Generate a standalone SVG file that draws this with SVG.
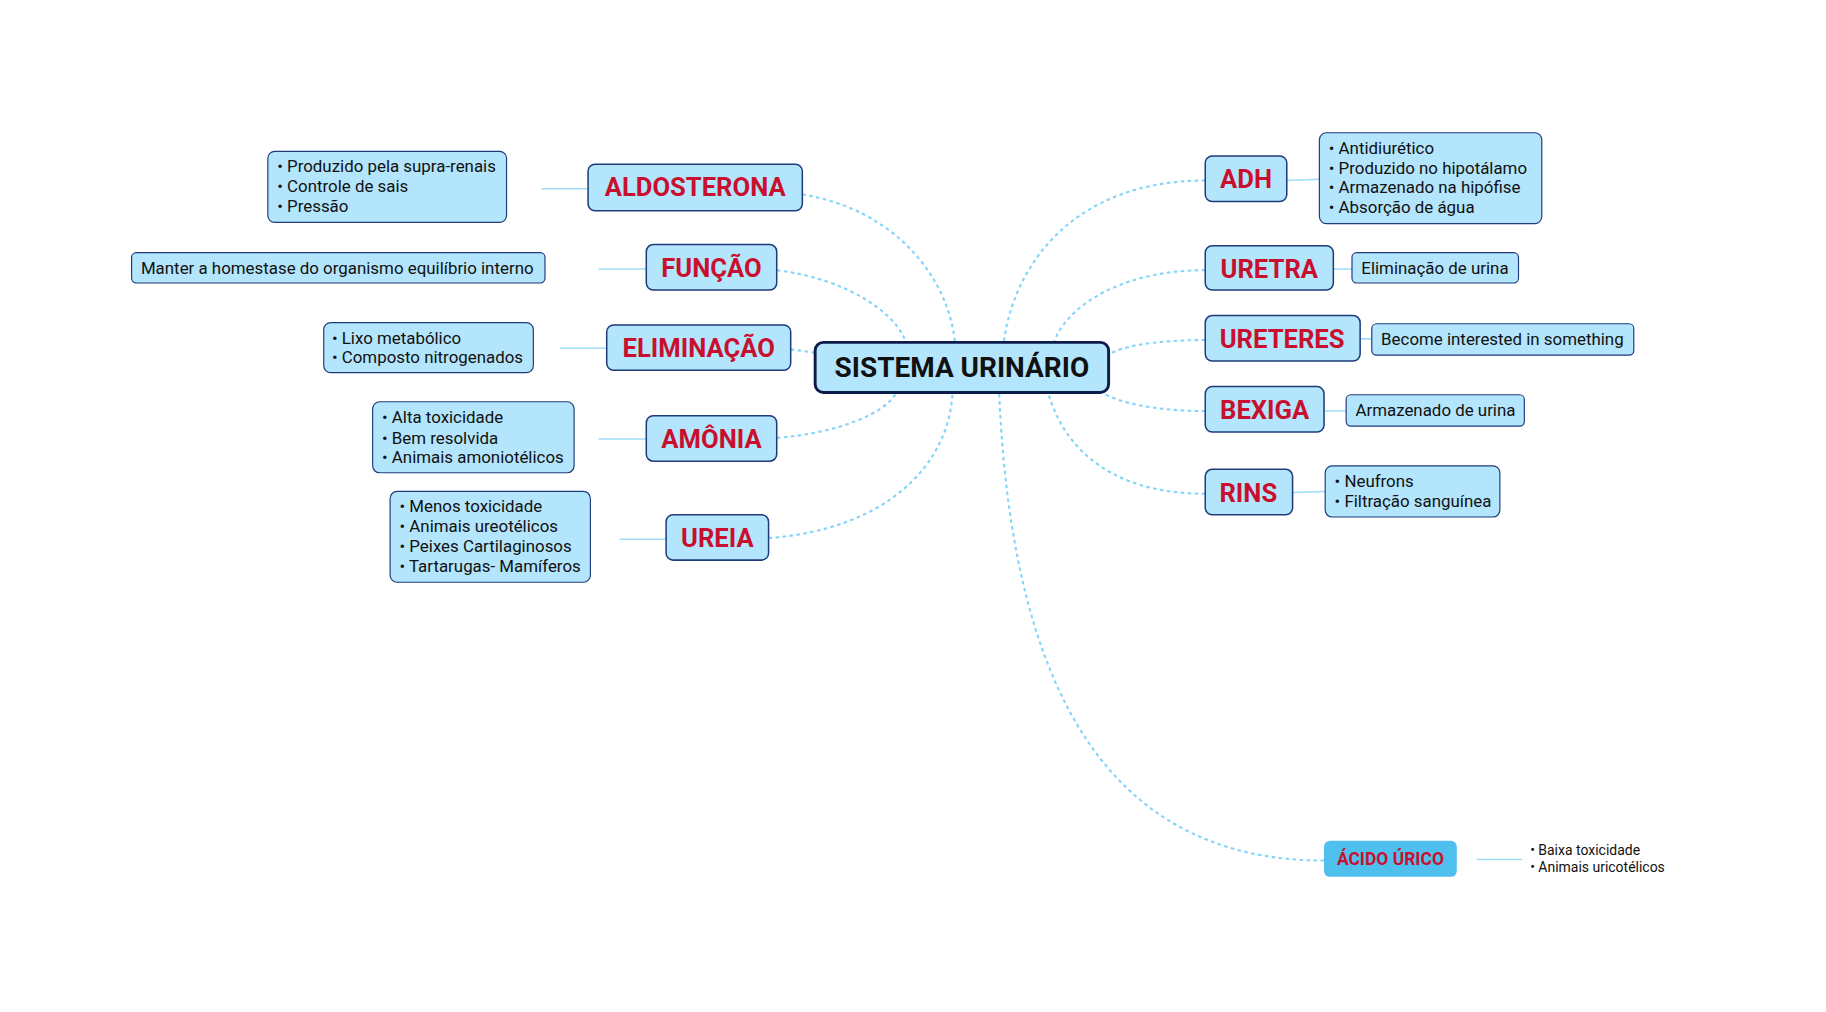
<svg xmlns="http://www.w3.org/2000/svg" width="1826" height="1012" viewBox="0 0 1826 1012">
<style>
.m{fill:#b3e5fc;stroke:#1f3b7a;stroke-width:1.3}
.mt{font-family:Roboto,"Liberation Sans",sans-serif;font-weight:bold;font-size:22px;fill:#c8102e;text-anchor:middle;dominant-baseline:central}
.d{fill:#b3e5fc;stroke:#1f3b7a;stroke-width:1}
.dt{font-family:Roboto,"Liberation Sans",sans-serif;font-size:14.5px;fill:#111}
.c{fill:none;stroke:#81d4fa;stroke-width:1.8;stroke-dasharray:3 3}
.s{fill:none;stroke:#9edcf7;stroke-width:1.3}
</style>
<rect width="1826" height="1012" fill="#fff"/>
<g transform="scale(1.1645)">
<g id="connectors">
<path class="c" d="M689,167 C770,180 815,240 820,294"/>
<path class="c" d="M667,232 C730,240 770,270 778,294"/>
<path class="c" d="M679,300 L700,303"/>
<path class="c" d="M667,376 C720,372 760,355 770,337"/>
<path class="c" d="M660,462 C760,455 815,400 818,337"/>
<path class="c" d="M1035,155 C920,155 870,230 862,294"/>
<path class="c" d="M1035,232 C960,232 915,265 905,294"/>
<path class="c" d="M1035,292 C990,292 960,298 952,305"/>
<path class="c" d="M1035,353 C990,353 960,345 948,338"/>
<path class="c" d="M1035,424 C960,424 915,390 900,337"/>
<path class="c" d="M1137,739 C970,739 870,620 858,337"/>
<path class="s" d="M465,162H505M514,231H555M481,299H521M514,377H555M532,463H572M1105,155L1133,154M1145,231H1161M1168,291H1178M1137,353H1156M1110,423L1138,422M1268,738H1307"/>
</g>
<g id="center"><rect x="700" y="294" width="252" height="43" rx="7" fill="#b3e5fc" stroke="#0d1b4a" stroke-width="2.5"/><text x="826" y="316" text-anchor="middle" dominant-baseline="central" font-family="Roboto,'Liberation Sans',sans-serif" font-weight="bold" font-size="24" fill="#111">SISTEMA URINÁRIO</text></g>
<g id="aldosterona"><rect class="m" x="505" y="141" width="184" height="40" rx="6"/><text class="mt" x="597" y="161">ALDOSTERONA</text></g>
<g id="funcao"><rect class="m" x="555" y="210" width="112" height="39" rx="6"/><text class="mt" x="611" y="230">FUNÇÃO</text></g>
<g id="eliminacao"><rect class="m" x="521" y="279" width="158" height="39" rx="6"/><text class="mt" x="600" y="299">ELIMINAÇÃO</text></g>
<g id="amonia"><rect class="m" x="555" y="357" width="112" height="39" rx="6"/><text class="mt" x="611" y="377">AMÔNIA</text></g>
<g id="ureia"><rect class="m" x="572" y="442" width="88" height="39" rx="6"/><text class="mt" x="616" y="462">UREIA</text></g>
<g id="adh"><rect class="m" x="1035" y="134" width="70" height="39" rx="6"/><text class="mt" x="1070" y="154">ADH</text></g>
<g id="uretra"><rect class="m" x="1035" y="211" width="110" height="38" rx="6"/><text class="mt" x="1090" y="231">URETRA</text></g>
<g id="ureteres"><rect class="m" x="1035" y="271" width="133" height="39" rx="6"/><text class="mt" x="1101" y="291">URETERES</text></g>
<g id="bexiga"><rect class="m" x="1035" y="332" width="102" height="39" rx="6"/><text class="mt" x="1086" y="352">BEXIGA</text></g>
<g id="rins"><rect class="m" x="1035" y="403" width="75" height="39" rx="6"/><text class="mt" x="1072" y="423">RINS</text></g>
<g id="acido"><rect x="1137" y="722" width="114" height="31" rx="5" fill="#4fbfee"/><text class="mt" x="1194" y="738" style="font-size:15px">ÁCIDO ÚRICO</text></g>
<g id="d-aldo"><rect class="d" x="230" y="130" width="205" height="61" rx="6"/><text class="dt" x="238" y="148">• Produzido pela supra-renais</text><text class="dt" x="238" y="165">• Controle de sais</text><text class="dt" x="238" y="182">• Pressão</text></g>
<g id="d-funcao"><rect class="d" x="113" y="217" width="355" height="26" rx="4"/><text class="dt" x="121" y="235">Manter a homestase do organismo equilíbrio interno</text></g>
<g id="d-elim"><rect class="d" x="278" y="277" width="180" height="43" rx="6"/><text class="dt" x="285" y="295">• Lixo metabólico</text><text class="dt" x="285" y="312">• Composto nitrogenados</text></g>
<g id="d-amonia"><rect class="d" x="320" y="345" width="173" height="61" rx="6"/><text class="dt" x="328" y="363">• Alta toxicidade</text><text class="dt" x="328" y="381">• Bem resolvida</text><text class="dt" x="328" y="398">• Animais amoniotélicos</text></g>
<g id="d-ureia"><rect class="d" x="335" y="422" width="172" height="78" rx="6"/><text class="dt" x="343" y="440">• Menos toxicidade</text><text class="dt" x="343" y="457">• Animais ureotélicos</text><text class="dt" x="343" y="474">• Peixes Cartilaginosos</text><text class="dt" x="343" y="491">• Tartarugas- Mamíferos</text></g>
<g id="d-adh"><rect class="d" x="1133" y="114" width="191" height="78" rx="6"/><text class="dt" x="1141" y="132">• Antidiurético</text><text class="dt" x="1141" y="149">• Produzido no hipotálamo</text><text class="dt" x="1141" y="166">• Armazenado na hipófise</text><text class="dt" x="1141" y="183">• Absorção de água</text></g>
<g id="d-uretra"><rect class="d" x="1161" y="217" width="143" height="26" rx="4"/><text class="dt" x="1169" y="235">Eliminação de urina</text></g>
<g id="d-ureteres"><rect class="d" x="1178" y="278" width="225" height="27" rx="4"/><text class="dt" x="1186" y="296">Become interested in something</text></g>
<g id="d-bexiga"><rect class="d" x="1156" y="339" width="153" height="27" rx="4"/><text class="dt" x="1164" y="357">Armazenado de urina</text></g>
<g id="d-rins"><rect class="d" x="1138" y="400" width="150" height="44" rx="6"/><text class="dt" x="1146" y="418">• Neufrons</text><text class="dt" x="1146" y="435">• Filtração sanguínea</text></g>
<g id="d-acido"><text class="dt" x="1314" y="734" style="font-size:12px">• Baixa toxicidade</text><text class="dt" x="1314" y="749" style="font-size:12px">• Animais uricotélicos</text></g>
</g>
</svg>
